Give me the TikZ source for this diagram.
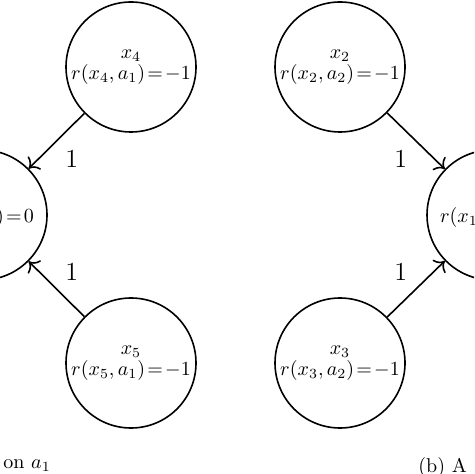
\documentclass[tikz,border=0pt]{standalone}
\usepackage{amsmath,amssymb}
\usepackage{xcolor}
\usetikzlibrary{positioning,arrows.meta}

\begin{document}
\begin{tikzpicture}[node distance=74pt and 74.5pt, on grid, auto, >={To[scale=1.3]},
  state/.style={circle, draw, thick, minimum size=65pt, inner sep=0pt, align=center,
    font=\fontsize{10}{10.5}\selectfont},
  arrow/.style={->, thick},
  weight/.style={font=\fontsize{13}{15}\selectfont, inner sep=4pt},
  caption/.style={inner sep=0pt, anchor=base west}]

  \useasboundingbox (0,0) rectangle (237pt,-237pt);
  \clip (0,0) rectangle (237pt,-237pt);

  % (a) action on a_1
  \node[state] (x4) at (65.5pt,-33.5pt) {$x_4$\\$r(x_4,a_1)\!=\!-1$};
  \node[state, below left=of x4] (x1a) {\mbox{}\\$r(x_1,a_1)\!=\!0$};
  \node[state, below right=of x1a] (x5) {$x_5$\\$r(x_5,a_1)\!=\!-1$};

  % (b) action on a_2
  \node[state, right=104.5pt of x4] (x2) {$x_2$\\$r(x_2,a_2)\!=\!-1$};
  \node[state, below right=74pt and 76pt of x2] (x1b) {\mbox{}\\$r(x_1,a_2)\!=\!0$};
  \node[state, below left=74pt and 76pt of x1b] (x3) {$x_3$\\$r(x_3,a_2)\!=\!-1$};

  \draw[arrow] (x4) -- node[weight] {1} (x1a);
  \draw[arrow] (x5) -- node[weight, swap] {1} (x1a);
  \draw[arrow] (x2) -- node[weight, swap] {1} (x1b);
  \draw[arrow] (x3) -- node[weight] {1} (x1b);

  \node[caption] (capa) at (1.5pt,-234pt) {on $a_1$};
  \node[caption] (capb) at (209pt,-236pt) {(b) A};

\end{tikzpicture}
\end{document}
